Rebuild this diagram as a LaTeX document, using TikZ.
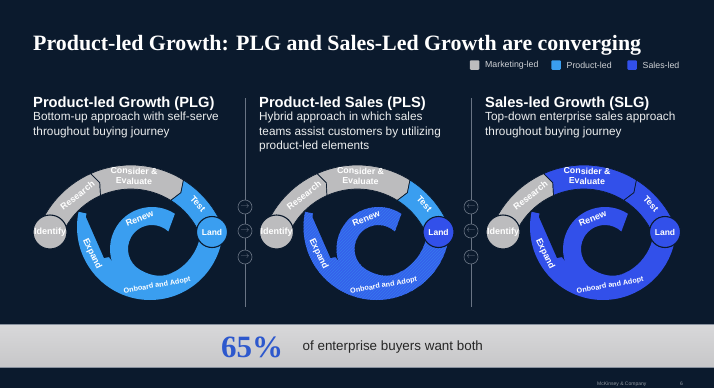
\documentclass[tikz,border=0pt]{standalone}
\usepackage{fontspec}
\setmainfont{Liberation Sans}
\newfontfamily\titleserif{Liberation Serif}
\usetikzlibrary{calc}
\usetikzlibrary{positioning}
\usetikzlibrary{patterns}

\definecolor{bgnavy}{RGB}{11,26,45}
\definecolor{mktgray}{RGB}{188,188,190}
\definecolor{plblue}{RGB}{58,158,240}
\definecolor{slblue}{RGB}{50,80,234}
\definecolor{rulegray}{RGB}{105,116,132}
\definecolor{bandgray}{RGB}{216,216,218}
\definecolor{pctblue}{RGB}{45,88,205}

\tikzset{
	band/.style={draw=bgnavy, line width=0.7pt},
	plring/.style={fill=plblue},
	slring/.style={fill=slblue},
	plsring/.style={preaction={fill=slblue!80!plblue}, pattern=north east lines, pattern color=plblue!55!slblue},
	stage/.style={circle, draw=bgnavy, line width=1.1pt, inner sep=0pt, text=white, font=\fontsize{9}{10}\selectfont\bfseries},
	lbl/.style={inner sep=0pt, text=white, font=\fontsize{9}{10}\selectfont\bfseries},
	headtxt/.style={anchor=base west, inner sep=0pt, text=white, font=\fontsize{14.7}{16}\selectfont\bfseries},
	subtxt/.style={anchor=north west, inner sep=0pt, align=left, text=white!92!bgnavy, font=\fontsize{11.8}{14.5}\selectfont},
	legbox/.style={minimum size=9.5pt, inner sep=0pt, rounded corners=1pt},
	legtxt/.style={inner sep=0pt, text=white!80!bgnavy, font=\fontsize{8.8}{10}\selectfont},
	arrowdot/.style={circle, draw=rulegray, fill=bgnavy, line width=0.6pt, minimum size=14pt, inner sep=0pt, text=rulegray, font=\fontsize{9}{9}\selectfont},
	divider/.style={draw=rulegray, line width=0.6pt}
}

\begin{document}
\begin{tikzpicture}[x=1pt,y=1pt]
	\useasboundingbox (0,0) rectangle (714,-388);
	\fill[bgnavy] (0,0) rectangle (714,-388);

	\node[anchor=base west, inner sep=0pt, text=white, font=\titleserif\bfseries\fontsize{21.9}{24}\selectfont] (title) at (33,-50) {Product-led Growth: PLG and Sales-Led Growth are converging};

	\node[legbox, fill=mktgray] (lg1) at (474.5,-65) {};
	\node[legtxt, right=5.5pt of lg1] (lt1) {Marketing-led};
	\node[legbox, fill=plblue] (lg2) at (556,-65) {};
	\node[legtxt, right=5.5pt of lg2] (lt2) {Product-led};
	\node[legbox, fill=slblue] (lg3) at (632,-65) {};
	\node[legtxt, right=5.5pt of lg3] (lt3) {Sales-led};

	\node[headtxt] (h1) at (33,-107) {Product-led Growth (PLG)};
	\node[subtxt] (s1) at (33,-112) {Bottom-up approach with self-serve\\throughout buying journey};
	\node[headtxt] (h2) at (259,-107) {Product-led Sales (PLS)};
	\node[subtxt] (s2) at (259,-112) {Hybrid approach in which sales\\teams assist customers by utilizing\\product-led elements};
	\node[headtxt] (h3) at (485,-107) {Sales-led Growth (SLG)};
	\node[subtxt] (s3) at (485,-112) {Top-down enterprise sales approach\\throughout buying journey};

	\foreach \px/\n/\cce/\tst/\lnd/\rng in {0/1/mktgray/plblue/plblue/plring, 226.5/2/mktgray/plblue/slblue/plsring, 453/3/slblue/slblue/slblue/slring}{
		\begin{scope}[xshift=\px]
			\coordinate (R0) at (150,-227);
			\coordinate (C0) at (152,-249);
			\coordinate (A0) at (131,-264);

			\fill[\rng] ($(R0)+(0:73)$) arc[start angle=0, end angle=-192, radius=73]
				-- ($(R0)+(-192:51)$) arc[start angle=-192, end angle=0, radius=51] -- cycle;
			\fill[bgnavy] (86,-217) -- (104,-258) -- (C0) -- (135,-200) -- (88,-203) -- cycle;
			\fill[\rng] ($(C0)+(57:42)$) arc[start angle=57, end angle=250, radius=42]
				-- ($(R0)+(-60:51)$) to[out=210,in=-30] ($(C0)+(240:24)$)
				arc[start angle=240, end angle=47, radius=24] -- cycle;

			\filldraw[band, fill=mktgray] ($(A0)+(162:99)$) arc[start angle=162, end angle=114, radius=99]
				-- ($(A0)+(111:87)$) -- ($(A0)+(114:75)$) arc[start angle=114, end angle=162, radius=75] -- cycle;
			\filldraw[band, fill=\cce] ($(A0)+(114:99)$) arc[start angle=114, end angle=58, radius=99]
				-- ($(A0)+(55:87)$) -- ($(A0)+(58:75)$) arc[start angle=58, end angle=114, radius=75]
				-- ($(A0)+(111:87)$) -- cycle;
			\filldraw[band, fill=\tst] ($(A0)+(58:99)$) arc[start angle=58, end angle=18, radius=99]
				-- ($(A0)+(18:75)$) arc[start angle=18, end angle=58, radius=75]
				-- ($(A0)+(55:87)$) -- cycle;

			\node[stage, fill=mktgray, minimum size=34pt] (idf\n) at (50,-232) {Identify};
			\node[stage, fill=\lnd, minimum size=31pt, font=\fontsize{8.5}{9}\selectfont\bfseries] (lnd\n) at (212,-232) {Land};

			\node[lbl, rotate=38] (rs\n) at ($(A0)+(128:87)$) {Research};
			\node[lbl, rotate=-1, align=center, font=\fontsize{8.8}{10}\selectfont\bfseries] (ce\n) at ($(A0)+(88:88)$) {Consider \&\\Evaluate};
			\node[lbl, rotate=-48] (ts\n) at ($(A0)+(42:90)$) {Test};
			\node[lbl, rotate=22] (rn\n) at ($(C0)+(112:33)$) {Renew};
			\node[lbl, rotate=-64] (ex\n) at (92,-254) {Expand};
			\node[lbl, rotate=10, font=\fontsize{7.2}{8}\selectfont\bfseries] (ob\n) at ($(R0)+(-83:59)$) {Onboard and Adopt};
		\end{scope}
	}

	\coordinate (dv1top) at (245,-98);
	\coordinate (dv1bot) at (245,-307);
	\node[arrowdot] (ar11) at (245,-207) {$\rightarrow$};
	\node[arrowdot] (ar12) at (245,-231) {$\rightarrow$};
	\node[arrowdot] (ar13) at (245,-257) {$\rightarrow$};
	\draw[divider] (dv1top) -- (ar11) -- (ar12) -- (ar13) -- (dv1bot);

	\coordinate (dv2top) at (471,-98);
	\coordinate (dv2bot) at (471,-307);
	\node[arrowdot] (ar21) at (471,-207) {$\leftarrow$};
	\node[arrowdot] (ar22) at (471,-231) {$\leftarrow$};
	\node[arrowdot] (ar23) at (471,-257) {$\leftarrow$};
	\draw[divider] (dv2top) -- (ar21) -- (ar22) -- (ar23) -- (dv2bot);

	\shade[top color=bandgray!100!white, bottom color=bandgray!92!black] (0,-324) rectangle (714,-367);
	\draw[rulegray!80!white, line width=1pt] (0,-324) -- (714,-324);
	\draw[rulegray!80!white, line width=1pt] (0,-367) -- (714,-367);
	\node[anchor=base west, inner sep=0pt, text=pctblue, font=\titleserif\bfseries\fontsize{31}{32}\selectfont] (pct) at (221,-357) {65\%};
	\node[anchor=base west, inner sep=0pt, text=black!85, font=\fontsize{13.4}{14}\selectfont] (both) at (302.5,-350) {of enterprise buyers want both};

	\node[anchor=base west, inner sep=0pt, text=white!55!bgnavy, font=\fontsize{5}{6}\selectfont] (firm) at (597,-385) {McKinsey \& Company};
	\node[anchor=base west, inner sep=0pt, text=white!55!bgnavy, font=\fontsize{5}{6}\selectfont] (page) at (680,-385) {6};
\end{tikzpicture}
\end{document}
